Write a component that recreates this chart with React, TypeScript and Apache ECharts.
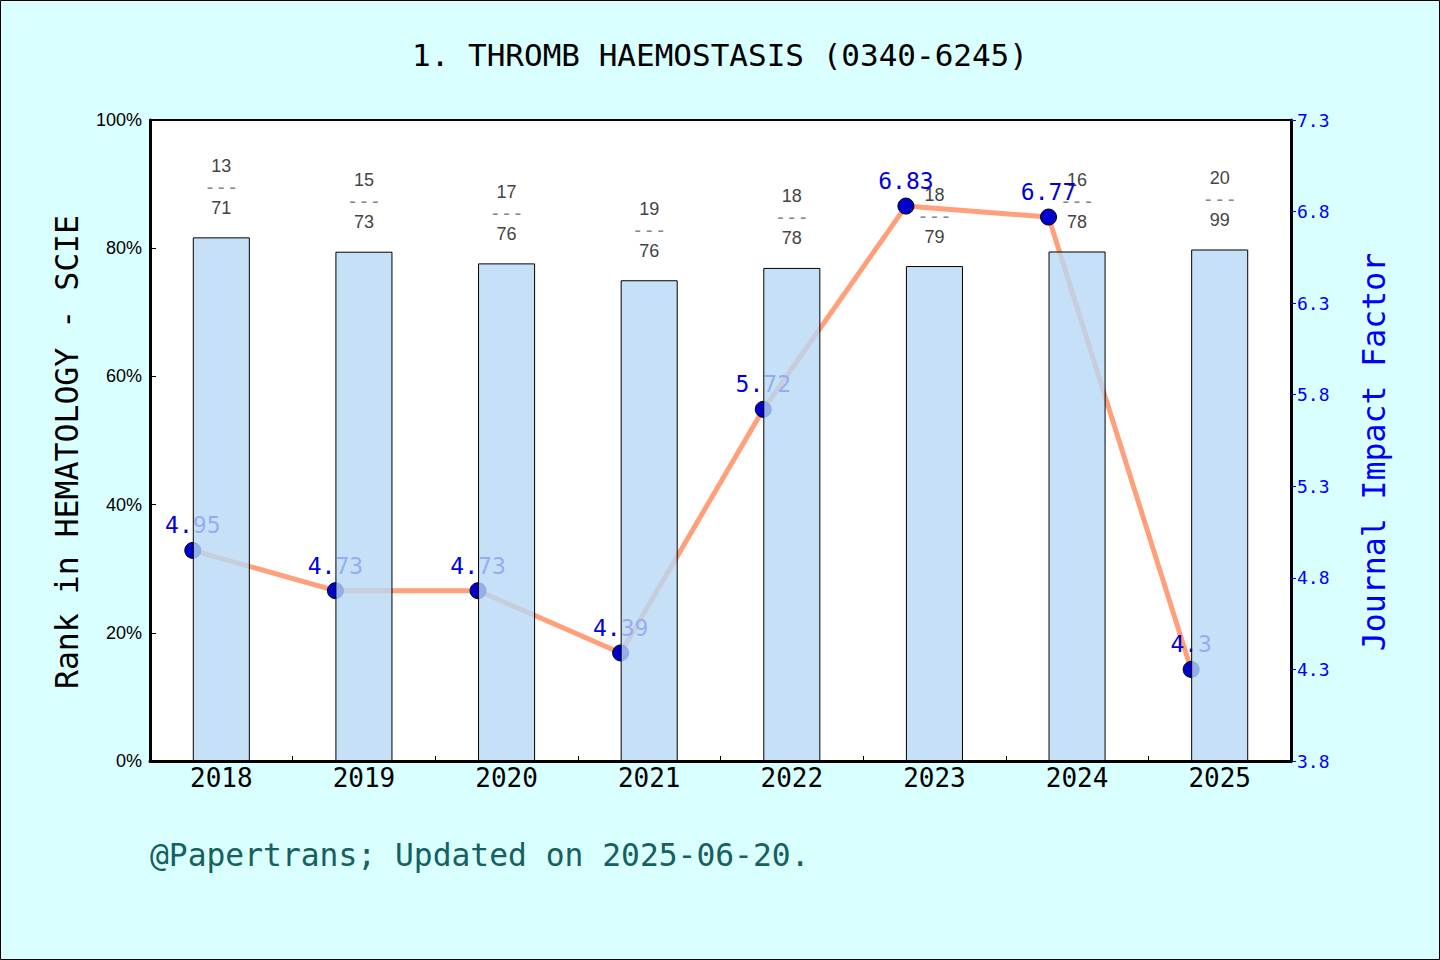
import React, { useEffect, useRef } from "react";
import * as echarts from "echarts";

const years = ["2018", "2019", "2020", "2021", "2022", "2023", "2024", "2025"];
const ranks = [13, 15, 17, 19, 18, 18, 16, 20];
const totals = [71, 73, 76, 76, 78, 79, 78, 99];
const impactFactors = [4.95, 4.73, 4.73, 4.39, 5.72, 6.83, 6.77, 4.3];
const rankTicksMax = 1;
const ifMin = 3.8;
const ifMax = 7.3;
const ifInterval = 0.5;
// bars take 40% of each category band; the IF points sit at the bars' left edges
const barShare = 0.4;
const lineShift = barShare / 2;

const titleText = "1. THROMB HAEMOSTASIS (0340-6245)";
const footerText = "@Papertrans; Updated on 2025-06-20.";
const leftName = "Rank in HEMATOLOGY - SCIE";
const rightName = "Journal Impact Factor";

const MONO = "'DejaVu Sans Mono', 'Liberation Mono', monospace";
const SANS = "'Liberation Sans', Arial, sans-serif";

export default function App() {
  const ref = useRef<HTMLDivElement>(null);
  useEffect(() => {
    if (!ref.current) return;
    const chart = echarts.init(ref.current, undefined, { renderer: "svg" });
    const barValues = ranks.map((r, i) => (totals[i] - r) / totals[i]);
    const lineData = impactFactors.map((v, i) => [i - lineShift, v]);
    chart.setOption({
      animation: false,
      backgroundColor: "#d9ffff",
      title: {
        text: titleText,
        left: "center",
        top: 34,
        textStyle: { fontFamily: MONO, fontSize: 31, fontWeight: "normal", color: "#000" },
      },
      grid: {
        left: 150,
        right: 149,
        top: 120,
        bottom: 199,
        show: true,
        backgroundColor: "#fff",
        borderColor: "#000",
        borderWidth: 2,
      },
      xAxis: [
        {
          type: "category",
          data: years,
          boundaryGap: true,
          axisLine: { show: true, onZero: false, lineStyle: { color: "#000", width: 3 } },
          axisTick: { show: true, inside: true, length: 5, lineStyle: { color: "#000" } },
          axisLabel: { color: "#000", fontSize: 26, fontFamily: MONO, margin: 4 },
          splitLine: { show: false },
        },
        {
          type: "value",
          min: -0.5,
          max: years.length - 0.5,
          show: false,
          position: "top",
          axisLine: { onZero: false },
          splitLine: { show: false },
        },
      ],
      yAxis: [
        {
          type: "value",
          min: 0,
          max: rankTicksMax,
          interval: 0.2,
          position: "left",
          axisLine: { show: true, onZero: false, lineStyle: { color: "#000", width: 3 } },
          axisTick: { show: true, inside: true, length: 6, lineStyle: { color: "#000" } },
          axisLabel: {
            color: "#000",
            fontSize: 18,
            fontFamily: SANS,
            margin: 8,
            formatter: (v: number) => Math.round(v * 100) + "%",
          },
          splitLine: { show: false },
        },
        {
          type: "value",
          min: ifMin,
          max: ifMax,
          interval: ifInterval,
          position: "right",
          axisLine: { show: true, onZero: false, lineStyle: { color: "#000", width: 3 } },
          axisTick: { show: true, inside: false, length: 5, lineStyle: { color: "#0000ff" } },
          axisLabel: {
            color: "#0000ff",
            fontSize: 18,
            fontFamily: MONO,
            margin: 6,
            formatter: (v: number) => v.toFixed(1),
          },
          splitLine: { show: false },
        },
      ],
      series: [
        {
          type: "bar",
          name: "rankLabels",
          data: barValues,
          barWidth: barShare * 100 + "%",
          barGap: "-100%",
          z: 1,
          silent: true,
          itemStyle: { color: "rgba(0,0,0,0)" },
          label: {
            show: true,
            position: "top",
            distance: 19,
            formatter: (p: any) => `{a|${ranks[p.dataIndex]}}\n{b|---}\n{a|${totals[p.dataIndex]}}`,
            rich: {
              a: { fontFamily: SANS, fontSize: 18, color: "#444", lineHeight: 21 },
              b: { fontFamily: MONO, fontSize: 19, color: "#888", lineHeight: 21 },
            },
          },
        },
        {
          type: "line",
          name: "IF",
          xAxisIndex: 1,
          yAxisIndex: 1,
          data: lineData,
          z: 2,
          symbol: "circle",
          symbolSize: 16,
          lineStyle: { color: "#ffa07a", width: 5 },
          itemStyle: { color: "#0000cd", borderColor: "#000", borderWidth: 1 },
          label: {
            show: true,
            position: "top",
            distance: 5,
            color: "#0000dd",
            fontSize: 23,
            fontFamily: MONO,
            formatter: (p: any) => String(p.value[1]),
          },
        },
        {
          type: "bar",
          name: "rank",
          data: barValues,
          barWidth: barShare * 100 + "%",
          barGap: "-100%",
          z: 3,
          itemStyle: { color: "rgba(184,216,245,0.8)", borderColor: "#000", borderWidth: 1 },
        },
      ],
      graphic: [
        {
          type: "text",
          x: 67,
          y: 452,
          rotation: Math.PI / 2,
          style: {
            text: leftName,
            fontFamily: MONO,
            fontSize: 31.5,
            fill: "#000",
            textAlign: "center",
            textVerticalAlign: "middle",
          },
        },
        {
          type: "text",
          x: 1374,
          y: 452,
          rotation: Math.PI / 2,
          style: {
            text: rightName,
            fontFamily: MONO,
            fontSize: 31.5,
            fill: "#0000ff",
            textAlign: "center",
            textVerticalAlign: "middle",
          },
        },
        {
          type: "text",
          left: 150,
          top: 839,
          style: { text: footerText, fontFamily: MONO, fontSize: 31.3, fill: "#156060" },
        },
        {
          type: "rect",
          shape: { x: 0.5, y: 0.5, width: 1439, height: 959 },
          style: { fill: "none", stroke: "#000", lineWidth: 1 },
          silent: true,
        },
      ],
    });
    return () => chart.dispose();
  }, []);
  return (
    <div
      ref={ref}
      style={{ position: "fixed", left: 0, top: 0, width: 1440, height: 960 }}
    />
  );
}
